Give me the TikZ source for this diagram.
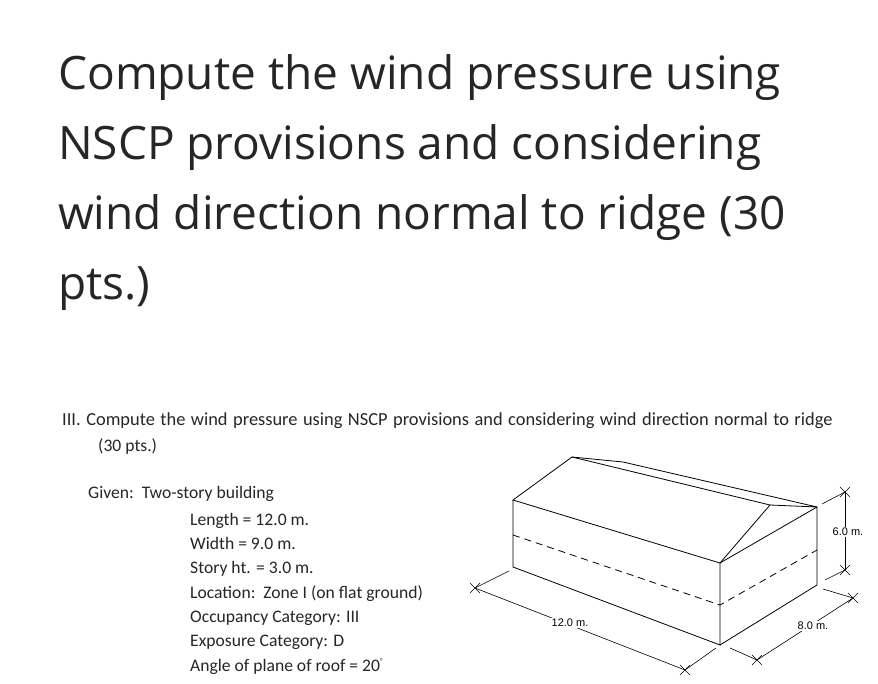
\documentclass[tikz,border=0pt]{standalone}
\usepackage{fontspec}
\setmainfont{Open Sans}
\newfontfamily\carlitofam{Carlito}
\newfontfamily\arialfam{Liberation Sans}
\begin{document}
\begin{tikzpicture}[x=1pt,y=-1pt,
  big/.style={anchor=base west,inner sep=0,font=\fontsize{46}{46}\selectfont,text=black!85},
  sm/.style={anchor=base west,inner sep=0,font=\carlitofam\fontsize{17.6}{17.6}\selectfont,text=black!85},
  ln/.style={line width=0.8pt},
  dim/.style={line width=0.6pt},
  lab/.style={font=\arialfam\fontsize{11}{11}\selectfont,fill=white,inner sep=1pt}]
\useasboundingbox[fill=white] (0,0) rectangle (878,684);
\node[big] (t1) at (58,90) {Compute the wind pressure using};
\node[big] (t2) at (58,160) {NSCP provisions and considering};
\node[big] (t3) at (58,230) {wind direction normal to ridge (30};
\node[big] (t4) at (58,300) {pts.)};
\node[sm,font=\carlitofam\fontsize{18.4}{18.4}\selectfont] (s1) at (62,425) {\spaceskip=0.3em III. Compute the wind pressure using NSCP provisions and considering wind direction normal to ridge};
\node[sm] (s2) at (98,451) {(30 pts.)};
\node[sm] (s3) at (88,498) {Given:\ \ Two-story building};
\node[sm] (s4) at (190,525) {Length = 12.0 m.};
\node[sm] (s5) at (190,549) {Width = 9.0 m.};
\node[sm] (s6) at (190,573) {Story ht. = 3.0 m.};
\node[sm] (s7) at (190,598) {Location:\ \ Zone I (on flat ground)};
\node[sm] (s8) at (190,622) {Occupancy Category: III};
\node[sm] (s9) at (190,646) {Exposure Category: D};
\node[sm] (s10) at (190,671) {Angle of plane of roof = 20\raisebox{0.9ex}{\fontsize{7}{7}\selectfont °}};
% building
\coordinate (A) at (513,500); \coordinate (B) at (513,567);
\coordinate (C) at (720,563); \coordinate (D) at (720,645);
\coordinate (E) at (817,507); \coordinate (F) at (817,585);
\coordinate (R1) at (572,457); \coordinate (R2) at (770,505);
\coordinate (G1) at (513,535); \coordinate (G2) at (720,605); \coordinate (G3) at (817,550);
\draw[ln] (A)--(B)--(D)--(C)--(A)--(R1)--(R2)--(C);
\draw[ln] (D)--(F)--(E)--(C);
\draw[ln] (R1)--(623,462)--(E)--(R2);
\draw[ln,dashed,dash pattern=on 7pt off 5pt] (G1)--(G2)--(G3);
% 12 m dim
\coordinate (d1) at (475,588); \coordinate (d2) at (685,670);
\draw[dim] (509,571)--(d1) (716,648)--(d2);
\draw[dim] (d1)--(d2);
\node[lab] (l12) at (570,623) {12.0 m.};
\draw[dim] ([shift={(-5,-5)}]d1)--([shift={(5,5)}]d1) ([shift={(-5,5)}]d1)--([shift={(5,-5)}]d1);
\draw[dim] ([shift={(-5,-5)}]d2)--([shift={(5,5)}]d2) ([shift={(-5,5)}]d2)--([shift={(5,-5)}]d2);
% 8 m dim
\coordinate (e1) at (757,660); \coordinate (e2) at (853,598);
\draw[dim] (730,648)--(e1) (823,589)--(e2);
\draw[dim] (e1)--(e2);
\node[lab] (l8) at (813,626) {8.0 m.};
\draw[dim] ([shift={(-5,-5)}]e1)--([shift={(5,5)}]e1) ([shift={(-5,5)}]e1)--([shift={(5,-5)}]e1);
\draw[dim] ([shift={(-5,-5)}]e2)--([shift={(5,5)}]e2) ([shift={(-5,5)}]e2)--([shift={(5,-5)}]e2);
% 6 m dim
\coordinate (f1) at (845,492); \coordinate (f2) at (845,570);
\draw[dim] (822,504)--(f1) (825,580)--(f2);
\draw[dim] (f1)--(f2);
\node[lab] (l6) at (848,532) {6.0 m.};
\draw[dim] ([shift={(-5,-5)}]f1)--([shift={(5,5)}]f1) ([shift={(-5,5)}]f1)--([shift={(5,-5)}]f1);
\draw[dim] ([shift={(-5,-5)}]f2)--([shift={(5,5)}]f2) ([shift={(-5,5)}]f2)--([shift={(5,-5)}]f2);
\end{tikzpicture}
\end{document}
